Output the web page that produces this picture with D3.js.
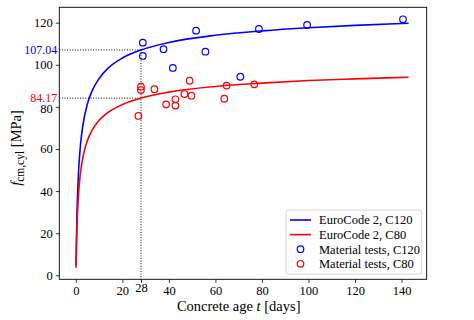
<!DOCTYPE html>
<html>
<head>
<meta charset="utf-8">
<script src="https://cdn.jsdelivr.net/npm/d3@7"></script>
<style>
  body { margin: 0; background: #fff; }
  text { font-family: "Liberation Serif", "DejaVu Serif", serif; }
</style>
</head>
<body>
<svg id="chart"></svg>
<script>
// Layout Setting
var svgWidth = 474,
    svgHeight = 320;
var margin = {top: 7.3, right: 47.3, bottom: 40.7, left: 59.3},
    width = svgWidth - margin.left - margin.right,
    height = svgHeight - margin.top - margin.bottom;

// Data
// EuroCode 2 curves: [age (days), strength (MPa)]
var ecAge   = [0.1, 0.25, 0.5, 1, 2, 3, 5, 7, 10, 14, 20, 28, 40, 60, 80, 100, 120, 143];
var ecC120  = [4.6, 15.7, 29.2, 45.4, 61.9, 71.0, 81.5, 87.6, 93.5, 98.5, 103.2, 107.04, 110.6, 114.0, 116.1, 117.6, 118.7, 119.7];
var ecC80   = [3.6, 12.4, 23.0, 35.7, 48.7, 55.8, 64.1, 68.9, 73.6, 77.5, 81.1, 84.17, 87.0, 89.7, 91.3, 92.5, 93.3, 94.1];

// material tests
var testC120Age = [28.8, 28.8, 37.7, 41.7, 51.7, 55.7, 70.7, 78.7, 99.4, 140.6];
var testC120Val = [110.5, 104.2, 107.4, 98.5, 116.2, 106.2, 94.3, 117.0, 118.9, 121.6];
var testC80Age  = [26.9, 28.0, 28.0, 33.8, 38.8, 42.8, 42.8, 46.7, 48.9, 49.7, 63.8, 64.8, 76.7];
var testC80Val  = [75.7, 89.6, 88.0, 88.4, 81.2, 83.6, 80.6, 86.1, 92.4, 85.3, 83.9, 90.1, 90.7];

var xTicks = [0, 20, 28, 40, 60, 80, 100, 120, 140];
var yTicks = [0, 20, 40, 60, 80, 100, 120];
var refAge = 28;
var refC120 = 107.04, refC80 = 84.17;
var legendLabels = ["EuroCode 2, C120", "EuroCode 2, C80", "Material tests, C120", "Material tests, C80"];

var blue = "#0000ff", red = "#ff0000";

// Initialize Layout
var svg = d3.select("svg").attr("width", svgWidth).attr("height", svgHeight);
var g = svg.append("g").attr("transform", "translate(" + [margin.left, margin.top] + ")");

var x = d3.scaleLinear().domain([-7.1, 150.8]).range([0, width]);
var y = d3.scaleLinear().domain([-1.9, 127.3]).range([height, 0]);

// axes
var xAxis = g.append("g").attr("transform", "translate(0," + height + ")")
  .call(d3.axisBottom(x).tickValues(xTicks).tickSize(3.5).tickPadding(3).tickFormat(d3.format("d")));
var yAxis = g.append("g")
  .call(d3.axisLeft(y).tickValues(yTicks).tickSize(3.5).tickPadding(3).tickFormat(d3.format("d")));
[xAxis, yAxis].forEach(function(a){
  a.select(".domain").remove();
  a.selectAll("line").attr("stroke", "#000").attr("stroke-width", 0.8);
  a.selectAll("text").attr("font-size", 12.5).attr("fill", "#000")
   .style("font-family", "'Liberation Serif', serif");
});
xAxis.selectAll(".tick").filter(function(d){ return d === 28; }).select("text").attr("dy", "0.5em");
// keep "80" clear of the 84.17 label
yAxis.selectAll(".tick").filter(function(d){ return d === 80; }).select("text").attr("dy", "0.42em");

// reference dotted lines
var dotted = g.append("g").attr("stroke", "#000").attr("stroke-width", 1).attr("stroke-dasharray", "1,1.6").attr("fill", "none");
dotted.append("line").attr("x1", 0).attr("x2", x(refAge)).attr("y1", y(refC120)).attr("y2", y(refC120));
dotted.append("line").attr("x1", 0).attr("x2", x(refAge)).attr("y1", y(refC80)).attr("y2", y(refC80));
dotted.append("line").attr("x1", x(refAge)).attr("x2", x(refAge)).attr("y1", y(refC120)).attr("y2", height);

// reference labels
g.append("text").attr("x", -2).attr("y", y(refC120)).attr("dy", "0.35em").attr("text-anchor", "end")
  .attr("font-size", 12).attr("fill", blue).text(d3.format(".2f")(refC120));
g.append("text").attr("x", -2).attr("y", y(refC80)).attr("dy", "0.3em").attr("text-anchor", "end")
  .attr("font-size", 12).attr("fill", red).text(d3.format(".2f")(refC80));

// curves
var line = d3.line().x(function(d){ return x(d[0]); }).y(function(d){ return y(d[1]); }).curve(d3.curveMonotoneX);
g.append("path").datum(d3.zip(ecAge, ecC120)).attr("d", line)
  .attr("fill", "none").attr("stroke", blue).attr("stroke-width", 1.6);
g.append("path").datum(d3.zip(ecAge, ecC80)).attr("d", line)
  .attr("fill", "none").attr("stroke", red).attr("stroke-width", 1.6);

// test markers
function drawPoints(ages, vals, color) {
  g.append("g").selectAll("circle").data(d3.zip(ages, vals)).join("circle")
    .attr("cx", function(d){ return x(d[0]); })
    .attr("cy", function(d){ return y(d[1]); })
    .attr("r", 3.3)
    .attr("fill", "none").attr("stroke", color).attr("stroke-width", 1.2);
}
drawPoints(testC120Age, testC120Val, blue);
drawPoints(testC80Age, testC80Val, red);

// frame
g.append("rect").attr("width", width).attr("height", height)
  .attr("fill", "none").attr("stroke", "#000").attr("stroke-width", 0.9);

// legend
var lg = g.append("g").attr("transform", "translate(" + (286 - margin.left) + "," + (210 - margin.top) + ")");
lg.append("rect").attr("width", 135.7).attr("height", 64).attr("rx", 2)
  .attr("fill", "#fff").attr("stroke", "#ccc").attr("stroke-width", 0.8);
var lcolors = [blue, red, blue, red];
legendLabels.forEach(function(lbl, i){
  var ly = 10 + i * 14.6;
  if (i < 2) {
    lg.append("line").attr("x1", 4).attr("x2", 25).attr("y1", ly).attr("y2", ly)
      .attr("stroke", lcolors[i]).attr("stroke-width", 1.6);
  } else {
    lg.append("circle").attr("cx", 14.5).attr("cy", ly).attr("r", 3.3)
      .attr("fill", "none").attr("stroke", lcolors[i]).attr("stroke-width", 1.2);
  }
  lg.append("text").attr("x", 33).attr("y", ly).attr("dy", "0.35em")
    .attr("font-size", 12.5).attr("fill", "#000").text(lbl);
});

// axis titles
var xt = svg.append("text").attr("x", margin.left + x(70)).attr("y", 310.5)
  .attr("text-anchor", "middle").attr("font-size", 14.5).attr("fill", "#000");
xt.append("tspan").text("Concrete age ");
xt.append("tspan").attr("font-style", "italic").text("t");
xt.append("tspan").text(" [days]");

var yt = svg.append("text").attr("transform", "translate(21,148) rotate(-90)")
  .attr("text-anchor", "middle").attr("font-size", 14.5).attr("fill", "#000");
yt.append("tspan").attr("font-style", "italic").text("f");
yt.append("tspan").attr("font-size", 11.5).attr("dy", 3).text("cm,cyl");
yt.append("tspan").attr("dy", -3).text(" [MPa]");
</script>
</body>
</html>
